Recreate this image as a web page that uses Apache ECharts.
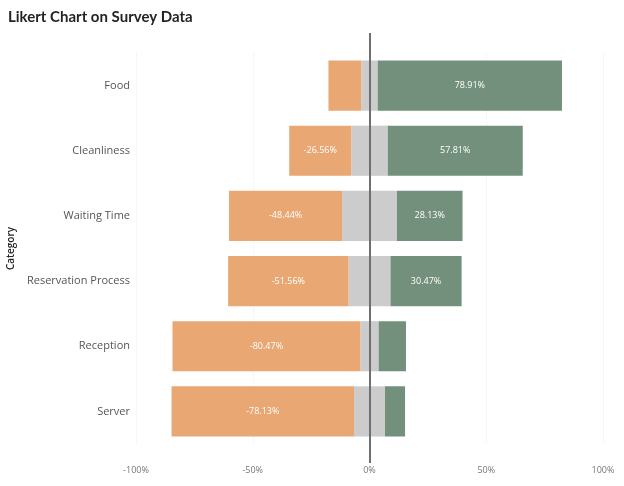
<!DOCTYPE html>
<html>
<head>
<meta charset="utf-8">
<script src="https://cdn.jsdelivr.net/npm/echarts@6/dist/echarts.min.js"></script>
<style>
	html, body { margin: 0; padding: 0; background: #fff; }
	#chart { width: 624px; height: 486px; }
</style>
</head>
<body>
<div id="chart"></div>
<script>
	// survey data, percent of responses
	const categories = ['Food', 'Cleanliness', 'Waiting Time', 'Reservation Process', 'Reception', 'Server'];
	const negative = [14.06, 26.56, 48.44, 51.56, 80.47, 78.13];
	const neutral = [7.03, 15.63, 23.43, 17.97, 7.81, 13.28];
	const positive = [78.91, 57.81, 28.13, 30.47, 11.72, 8.59];
	const tickValues = [-100, -50, 0, 50, 100];

	const labelMin = 20; // small segments get no label

	function segLabel(v) {
		return {
			value: v,
			label: { show: Math.abs(v) >= labelMin }
		};
	}

	const myChart = echarts.init(document.getElementById('chart'));

	const barLabel = {
		position: 'inside',
		color: '#fff',
		fontSize: 9,
		fontFamily: 'Open Sans',
		formatter: p => p.value.toFixed(2) + '%'
	};

	const option = {
		animation: false,
		title: {
			text: 'Likert Chart on Survey Data',
			left: 8,
			top: 10,
			padding: 0,
			textStyle: { fontFamily: 'Lato', fontWeight: 'bold', fontSize: 15, color: '#252423' }
		},
		grid: [
			{ left: 136, right: 21, top: 53, bottom: 42, outerBoundsMode: 'none' },
			// taller grid only for the zero line
			{ left: 136, right: 21, top: 33, bottom: 23, outerBoundsMode: 'none' }
		],
		xAxis: [{
			type: 'value',
			gridIndex: 0,
			min: tickValues[0],
			max: tickValues[tickValues.length - 1],
			interval: 50,
			axisLine: { show: false },
			axisTick: { show: false },
			splitLine: { show: true, lineStyle: { color: '#eeeeee', type: 'dotted' } },
			axisLabel: {
				margin: 22,
				fontSize: 9,
				color: '#777',
				fontFamily: 'Open Sans',
				formatter: v => v + '%'
			}
		}, {
			type: 'value',
			gridIndex: 1,
			min: -100,
			max: 100,
			show: false
		}],
		yAxis: [{
			type: 'category',
			gridIndex: 0,
			inverse: true,
			data: categories,
			name: 'Category',
			nameLocation: 'middle',
			nameGap: 112,
			nameRotate: 90,
			nameTextStyle: { fontFamily: 'Open Sans', fontSize: 10, fontWeight: 600, color: '#252423' },
			axisLine: { show: false },
			axisTick: { show: false },
			axisLabel: { margin: 6, fontSize: 11, color: '#555', fontFamily: 'Open Sans' }
		}, {
			type: 'category',
			gridIndex: 1,
			data: ['a'],
			show: false
		}],
		series: [
			{
				name: 'Neutral (left)',
				type: 'bar',
				stack: 'likert',
				barWidth: '77%',
				itemStyle: { color: '#cccccc' },
				data: neutral.map(v => -v / 2)
			},
			{
				name: 'Negative',
				type: 'bar',
				stack: 'likert',
				itemStyle: { color: '#e9a773' },
				label: barLabel,
				data: negative.map(v => segLabel(-v))
			},
			{
				name: 'Neutral (right)',
				type: 'bar',
				stack: 'likert',
				itemStyle: { color: '#cccccc' },
				data: neutral.map(v => v / 2)
			},
			{
				name: 'Positive',
				type: 'bar',
				stack: 'likert',
				itemStyle: { color: '#73907d' },
				label: barLabel,
				data: positive.map(v => segLabel(v))
			},
			{
				// zero line
				type: 'line',
				xAxisIndex: 1,
				yAxisIndex: 1,
				data: [],
				markLine: {
					symbol: 'none',
					silent: true,
					label: { show: false },
					lineStyle: { color: '#6f6f6f', width: 2, type: 'solid' },
					data: [{ xAxis: 0 }]
				}
			}
		]
	};
	myChart.setOption(option);
</script>
</body>
</html>
